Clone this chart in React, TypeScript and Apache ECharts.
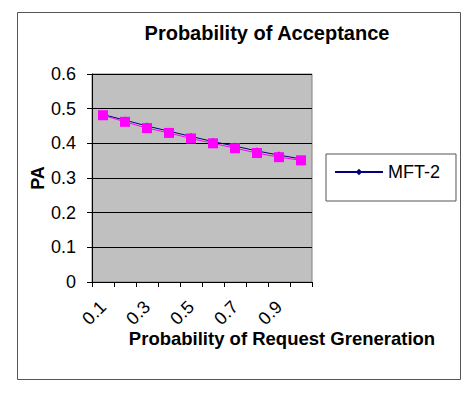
import React, { useEffect, useRef } from "react";
import * as echarts from "echarts";

const categories = ["0.1", "0.2", "0.3", "0.4", "0.5", "0.6", "0.7", "0.8", "0.9", "1"];
const mft2Values = [0.483, 0.467, 0.45, 0.435, 0.42, 0.405, 0.392, 0.378, 0.366, 0.355];
const otherValues = [0.481, 0.462, 0.444, 0.43, 0.414, 0.4, 0.386, 0.372, 0.36, 0.351];
const yTicks = { min: 0, max: 0.6, interval: 0.1 };

const FONT = "Liberation Sans, Arial, sans-serif";

export default function App() {
  const ref = useRef<HTMLDivElement>(null);
  useEffect(() => {
    const chart = echarts.init(ref.current!, null, { renderer: "svg" });
    chart.setOption({
      animation: false,
      backgroundColor: "#ffffff",
      textStyle: { fontFamily: FONT },
      title: {
        text: "Probability of Acceptance",
        left: 262,
        top: 18,
        textAlign: "center",
        textStyle: { fontFamily: FONT, fontSize: 20, fontWeight: "bold", color: "#000" },
      },
      graphic: [
        {
          type: "rect",
          shape: { x: 17.5, y: 12.5, width: 443, height: 367 },
          style: { fill: "none", stroke: "#555", lineWidth: 1 },
          silent: true,
        },
        {
          type: "text",
          x: 282,
          y: 338,
          style: {
            text: "Probability of Request Greneration",
            font: "bold 18.5px " + FONT,
            fill: "#000",
            textAlign: "center",
            textVerticalAlign: "middle",
          },
        },
      ],
      legend: {
        data: ["MFT-2"],
        left: 326,
        top: 154,
        orient: "vertical",
        borderColor: "#555",
        borderWidth: 1,
        padding: [9, 16, 20, 8],
        itemWidth: 48,
        itemHeight: 8,
        itemGap: 5,
        textStyle: { fontFamily: FONT, fontSize: 18, color: "#000" },
      },
      grid: {
        left: 92,
        right: 162,
        top: 74,
        bottom: 113,
        show: true,
        backgroundColor: "#c0c0c0",
        borderColor: "#808080",
        borderWidth: 1,
      },
      xAxis: {
        type: "category",
        data: categories,
        boundaryGap: true,
        axisLine: { lineStyle: { color: "#000", width: 1 } },
        axisTick: { show: true, length: 5, interval: 0, lineStyle: { color: "#000" } },
        axisLabel: {
          interval: 1,
          rotate: 45,
          margin: 22,
          fontSize: 18,
          fontFamily: FONT,
          color: "#000",
        },
        splitLine: { show: false },
      },
      yAxis: {
        type: "value",
        min: yTicks.min,
        max: yTicks.max,
        interval: yTicks.interval,
        name: "PA",
        nameLocation: "middle",
        nameGap: 43,
        nameTextStyle: { fontFamily: FONT, fontSize: 18, fontWeight: "bold", color: "#000" },
        axisLine: { show: true, lineStyle: { color: "#000", width: 1 } },
        axisTick: { show: true, length: 5, lineStyle: { color: "#000" } },
        axisLabel: { margin: 16, fontSize: 18, fontFamily: FONT, color: "#000" },
        splitLine: { show: true, lineStyle: { color: "#000", width: 1 } },
      },
      series: [
        {
          name: "MFT-2",
          type: "line",
          data: mft2Values,
          symbol: "diamond",
          symbolSize: 7,
          lineStyle: { color: "#000080", width: 1 },
          itemStyle: { color: "#000080" },
          z: 2,
        },
        {
          name: "Series2",
          type: "line",
          data: otherValues,
          symbol: "rect",
          symbolSize: 10,
          lineStyle: { color: "#ff00ff", width: 1 },
          itemStyle: { color: "#ff00ff" },
          z: 3,
        },
      ],
    });
    return () => chart.dispose();
  }, []);
  return <div ref={ref} style={{ width: 474, height: 395, position: "absolute", left: 0, top: 0 }} />;
}
